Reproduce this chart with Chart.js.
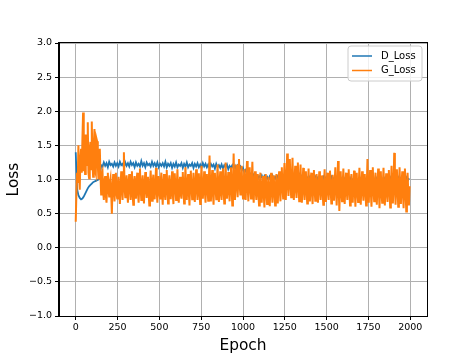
<!DOCTYPE html>
<html>
<head>
<meta charset="utf-8">
<script src="https://cdn.jsdelivr.net/npm/chart.js@4/dist/chart.umd.min.js"></script>
<style>
  html, body { margin: 0; padding: 0; background: #ffffff; }
  #wrap { width: 474px; height: 355px; }
</style>
</head>
<body>
<div id="wrap"><canvas id="c" width="474" height="355"></canvas></div>
<script>
// ---- data ----
const SERIES_NAMES = ['D_Loss', 'G_Loss'];
const D_EPOCH_STEP = 8; // D_Loss sampled every 8 epochs from epoch 0
const G_EPOCH_STEP = 4; // G_Loss sampled every 4 epochs from epoch 0
const X_TICKS = [0, 250, 500, 750, 1000, 1250, 1500, 1750, 2000];
const Y_TICKS = [-1.0, -0.5, 0.0, 0.5, 1.0, 1.5, 2.0, 2.5, 3.0];

const D_LOSS = [
  1.40, 0.86, 0.77, 0.73, 0.71, 0.72, 0.75, 0.79, 0.83, 0.87,
  0.90, 0.92, 0.94, 0.96, 0.97, 0.98, 0.99, 1.00, 1.03, 1.21,
  1.19, 1.25, 1.20, 1.24, 1.18, 1.26, 1.21, 1.23, 1.19, 1.25,
  1.20, 1.24, 1.19, 1.26, 1.21, 1.23, 1.18, 1.25, 1.20, 1.24,
  1.19, 1.26, 1.21, 1.24, 1.18, 1.25, 1.20, 1.23, 1.19, 1.27,
  1.20, 1.24, 1.18, 1.25, 1.21, 1.23, 1.19, 1.26, 1.20, 1.24,
  1.19, 1.25, 1.18, 1.23, 1.20, 1.24, 1.19, 1.26, 1.18, 1.23,
  1.20, 1.24, 1.17, 1.23, 1.19, 1.25, 1.18, 1.22, 1.20, 1.24,
  1.17, 1.23, 1.19, 1.25, 1.18, 1.22, 1.20, 1.24, 1.17, 1.23,
  1.19, 1.24, 1.18, 1.22, 1.17, 1.24, 1.19, 1.23, 1.18, 1.22,
  1.17, 1.23, 1.19, 1.22, 1.16, 1.23, 1.18, 1.21, 1.17, 1.22,
  1.16, 1.21, 1.18, 1.22, 1.15, 1.20, 1.17, 1.21, 1.16, 1.20,
  1.15, 1.20, 1.16, 1.19, 1.13, 1.17, 1.11, 1.14, 1.08, 1.11,
  1.06, 1.09, 1.03, 1.07, 1.02, 1.06, 1.01, 1.05, 1.02, 1.06,
  1.00, 1.05, 1.01, 1.04, 1.00, 1.05, 1.02, 1.06, 1.01, 1.04,
  1.00, 1.05, 1.02, 1.06, 1.01, 1.04, 1.00, 1.05, 1.02, 1.06,
  1.01, 1.06, 1.03, 1.07, 1.02, 1.05, 1.03, 1.07, 1.01, 1.05,
  1.00, 1.04, 0.99, 1.03, 1.00, 1.04, 0.98, 1.03, 1.00, 1.04,
  0.99, 1.03, 0.98, 1.02, 1.00, 1.04, 0.99, 1.03, 0.98, 1.02,
  1.00, 1.04, 0.98, 1.02, 0.99, 1.03, 0.97, 1.01, 0.98, 1.02,
  0.97, 1.01, 0.96, 1.00, 0.97, 1.02, 0.96, 1.00, 0.98, 1.01,
  0.96, 1.00, 0.97, 1.01, 0.95, 0.99, 0.97, 1.01, 0.96, 1.00,
  0.97, 1.01, 0.96, 1.00, 0.98, 1.02, 0.96, 1.00, 0.97, 1.01,
  0.98, 1.02, 0.97, 1.01, 0.99, 1.03, 0.98, 1.02, 0.97, 1.01,
  0.99, 1.03, 0.98, 1.02, 0.97, 1.01, 0.99, 1.03, 0.98, 1.02
];

const G_LOSS = [
  0.38, 0.80, 1.10, 0.95, 1.50, 1.05, 0.85, 1.30, 1.45, 1.10, 1.60, 1.98, 1.12, 1.40, 1.08, 1.66, 1.20, 1.50, 1.84, 1.10,
  1.02, 1.45, 1.55, 1.15, 1.85, 1.25, 1.04, 1.50, 1.74, 1.12, 1.08, 1.60, 1.56, 1.20, 1.00, 1.35, 1.45, 1.05, 0.78, 1.08,
  1.12, 0.82, 0.70, 0.98, 1.05, 0.76, 0.66, 0.92, 1.10, 0.84, 0.75, 0.96, 1.02, 0.80, 0.50, 0.88, 1.08, 0.90, 0.68, 0.95,
  1.10, 0.79, 0.72, 0.94, 1.04, 0.82, 0.64, 0.90, 1.12, 0.85, 0.70, 0.98, 1.40, 0.88, 0.74, 0.93, 1.06, 0.81, 0.66, 0.97,
  1.08, 0.86, 0.70, 0.92, 1.12, 0.78, 0.63, 0.95, 1.05, 0.83, 0.72, 0.99, 1.10, 0.80, 0.66, 0.91, 1.16, 0.87, 0.70, 0.94,
  1.06, 0.81, 0.65, 0.96, 1.11, 0.85, 0.73, 0.90, 1.04, 0.79, 0.62, 0.93, 1.13, 0.88, 0.69, 0.97, 1.07, 0.82, 0.71, 0.95,
  1.17, 0.84, 0.66, 0.91, 1.05, 0.80, 0.72, 0.98, 1.10, 0.86, 0.63, 0.94, 1.08, 0.79, 0.70, 0.92, 1.14, 0.85, 0.65, 0.96,
  1.06, 0.83, 0.71, 0.93, 1.12, 0.80, 0.64, 0.97, 1.09, 0.87, 0.70, 0.91, 1.15, 0.82, 0.66, 0.95, 1.04, 0.78, 0.72, 0.99,
  1.11, 0.84, 0.65, 0.92, 1.18, 0.86, 0.70, 0.96, 1.08, 0.81, 0.62, 0.94, 1.13, 0.88, 0.71, 0.90, 1.10, 0.83, 0.67, 0.97,
  1.15, 0.85, 0.70, 0.93, 1.09, 0.80, 0.64, 0.98, 1.20, 0.87, 0.72, 0.91, 1.12, 0.82, 0.66, 0.95, 1.08, 0.84, 0.69, 1.00,
  1.35, 0.88, 0.68, 0.94, 1.14, 0.81, 0.63, 0.97, 1.10, 0.85, 0.71, 0.92, 1.22, 0.86, 0.67, 0.96, 1.12, 0.80, 0.70, 0.99,
  1.16, 0.84, 0.65, 0.93, 1.25, 0.89, 0.72, 0.95, 1.11, 0.82, 0.68, 0.98, 1.18, 0.86, 0.62, 0.94, 1.38, 0.90, 0.70, 1.02,
  1.22, 0.90, 0.74, 1.00, 1.30, 0.92, 0.78, 0.98, 1.20, 0.88, 0.72, 0.96, 1.15, 0.85, 0.70, 1.01, 1.27, 0.89, 0.68, 0.97,
  1.18, 0.86, 0.72, 0.99, 1.26, 0.84, 0.66, 0.95, 1.12, 0.82, 0.70, 0.93, 1.08, 0.80, 0.62, 0.92, 1.10, 0.83, 0.66, 0.90,
  1.05, 0.78, 0.59, 0.88, 1.08, 0.81, 0.64, 0.91, 1.04, 0.77, 0.61, 0.89, 1.10, 0.83, 0.66, 0.92, 1.06, 0.80, 0.62, 0.90,
  1.08, 0.82, 0.65, 0.93, 1.12, 0.85, 0.68, 0.96, 1.18, 0.88, 0.72, 1.00, 1.24, 0.90, 0.70, 1.02, 1.38, 0.94, 0.76, 1.05,
  1.30, 0.92, 0.74, 1.04, 1.32, 0.90, 0.70, 0.99, 1.20, 0.87, 0.73, 1.01, 1.25, 0.89, 0.68, 0.97, 1.22, 0.86, 0.66, 0.95,
  1.17, 0.85, 0.70, 0.96, 1.12, 0.82, 0.65, 0.93, 1.16, 0.86, 0.68, 0.95, 1.10, 0.81, 0.64, 0.92, 1.14, 0.84, 0.69, 0.97,
  1.08, 0.83, 0.66, 0.91, 1.12, 0.85, 0.70, 0.95, 1.06, 0.80, 0.63, 0.92, 1.15, 0.86, 0.67, 0.94, 1.10, 0.82, 0.70, 0.96,
  1.13, 0.84, 0.65, 0.92, 1.07, 0.81, 0.69, 0.95, 1.18, 0.85, 0.62, 0.90, 1.27, 0.88, 0.54, 0.86, 1.12, 0.83, 0.68, 0.94,
  1.16, 0.85, 0.64, 0.91, 1.10, 0.82, 0.70, 0.96, 1.15, 0.84, 0.62, 0.90, 1.08, 0.80, 0.66, 0.93, 1.13, 0.83, 0.60, 0.89,
  1.10, 0.81, 0.67, 0.94, 1.17, 0.86, 0.63, 0.92, 1.12, 0.84, 0.69, 0.96, 1.08, 0.80, 0.62, 0.91, 1.30, 0.88, 0.66, 0.95,
  1.14, 0.83, 0.60, 0.90, 1.18, 0.86, 0.68, 0.95, 1.10, 0.82, 0.63, 0.92, 1.16, 0.84, 0.58, 0.89, 1.12, 0.81, 0.66, 0.94,
  1.17, 0.85, 0.62, 0.91, 1.09, 0.80, 0.67, 0.95, 1.14, 0.83, 0.59, 0.88, 1.20, 0.86, 0.65, 0.93, 1.39, 0.90, 0.63, 0.92,
  1.15, 0.84, 0.60, 0.89, 1.18, 0.85, 0.64, 0.93, 1.12, 0.81, 0.58, 0.88, 1.16, 0.83, 0.53, 0.87, 1.10, 0.82, 0.62, 0.90
];

const COLORS = ['#1f77b4', '#ff7f0e'];
const FONT = 'DejaVu Sans';

function toPoints(values, step) {
  return values.map((v, i) => ({ x: i * step, y: v }));
}

// frame (top/right spines) plugin
const framePlugin = {
  id: 'frame',
  afterDatasetsDraw(chart) {
    const { ctx, chartArea: a } = chart;
    ctx.save();
    ctx.strokeStyle = '#000';
    ctx.lineWidth = 1;
    ctx.strokeRect(Math.round(a.left) - 0.5, Math.round(a.top) - 0.5,
                   Math.round(a.right - a.left) + 1, Math.round(a.bottom - a.top) + 1);
    ctx.restore();
  }
};

// matplotlib-like legend inside the axes, upper right
const legendPlugin = {
  id: 'mplLegend',
  afterDraw(chart) {
    const { ctx, chartArea: a } = chart;
    const fs = 10;
    const w = 74, h = 35;
    const x0 = a.right - 5 - w, y0 = a.top + 3;
    ctx.save();
    ctx.beginPath();
    const r = 3;
    ctx.moveTo(x0 + r, y0);
    ctx.lineTo(x0 + w - r, y0);
    ctx.quadraticCurveTo(x0 + w, y0, x0 + w, y0 + r);
    ctx.lineTo(x0 + w, y0 + h - r);
    ctx.quadraticCurveTo(x0 + w, y0 + h, x0 + w - r, y0 + h);
    ctx.lineTo(x0 + r, y0 + h);
    ctx.quadraticCurveTo(x0, y0 + h, x0, y0 + h - r);
    ctx.lineTo(x0, y0 + r);
    ctx.quadraticCurveTo(x0, y0, x0 + r, y0);
    ctx.closePath();
    ctx.fillStyle = 'rgba(255,255,255,0.8)';
    ctx.fill();
    ctx.strokeStyle = '#cccccc';
    ctx.lineWidth = 1;
    ctx.stroke();
    chart.data.datasets.forEach((ds, i) => {
      const yy = y0 + 10 + i * 14.5;
      ctx.beginPath();
      ctx.strokeStyle = ds.borderColor;
      ctx.lineWidth = 1.5;
      ctx.moveTo(x0 + 4, yy);
      ctx.lineTo(x0 + 24, yy);
      ctx.stroke();
      ctx.fillStyle = '#000';
      ctx.font = fs + 'px "' + FONT + '"';
      ctx.textBaseline = 'middle';
      ctx.textAlign = 'left';
      ctx.fillText(ds.label, x0 + 33, yy);
    });
    ctx.restore();
  }
};

const fmt = v => {
  const s = Math.abs(v).toFixed(1);
  return v < 0 ? '\u2212' + s : s;
};

new Chart(document.getElementById('c'), {
  type: 'line',
  data: {
    datasets: [
      { label: SERIES_NAMES[0], data: toPoints(D_LOSS, D_EPOCH_STEP), borderColor: COLORS[0],
        backgroundColor: COLORS[0], borderWidth: 1.8, pointRadius: 0, tension: 0, order: 1 },
      { label: SERIES_NAMES[1], data: toPoints(G_LOSS, G_EPOCH_STEP), borderColor: COLORS[1],
        backgroundColor: COLORS[1], borderWidth: 2, pointRadius: 0, tension: 0, order: 0 }
    ]
  },
  options: {
    responsive: false,
    animation: false,
    events: [],
    layout: { padding: { top: 43, right: 47, left: 0, bottom: 0 } },
    plugins: { legend: { display: false }, tooltip: { enabled: false } },
    scales: {
      x: {
        type: 'linear',
        min: -100, max: 2100,
        afterFit: s => { s.height = 39; },
        afterBuildTicks: s => { s.ticks = X_TICKS.map(v => ({ value: v })); },
        ticks: { font: { family: FONT, size: 9.5 }, color: '#000', padding: 2,
                 maxRotation: 0, autoSkip: false, callback: v => String(v) },
        grid: { color: '#b0b0b0', lineWidth: 1, tickLength: 4, tickColor: '#000', drawTicks: true },
        border: { color: '#000', width: 1 },
        title: { display: true, text: 'Epoch', color: '#000',
                 font: { family: FONT, size: 15.4 }, padding: { top: 3, bottom: 0 } }
      },
      y: {
        min: -1, max: 3,
        afterFit: s => { s.width = 59; },
        afterBuildTicks: s => { s.ticks = Y_TICKS.map(v => ({ value: v })); },
        ticks: { font: { family: FONT, size: 9.5 }, color: '#000', padding: 3,
                 autoSkip: false, callback: v => fmt(v) },
        grid: { color: '#b0b0b0', lineWidth: 1, tickLength: 4, tickColor: '#000', drawTicks: true },
        border: { color: '#000', width: 1 },
        title: { display: true, text: 'Loss', color: '#000',
                 font: { family: FONT, size: 15.4 }, padding: { top: 5, bottom: 0 } }
      }
    }
  },
  plugins: [framePlugin, legendPlugin]
});
</script>
</body>
</html>
